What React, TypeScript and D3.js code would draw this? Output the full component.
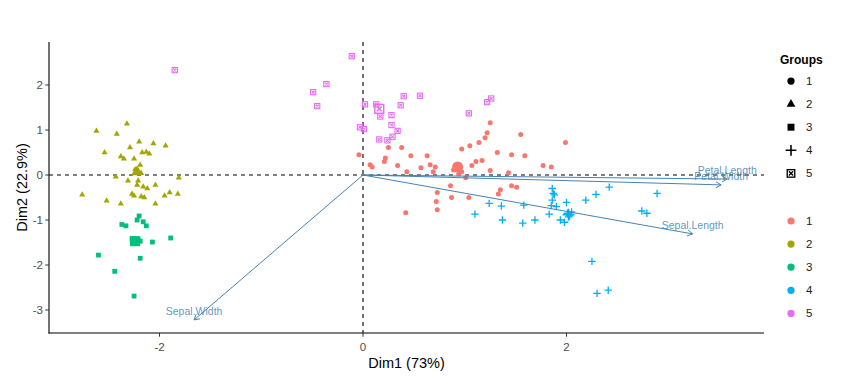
import React from 'react';
import * as d3 from 'd3';

// ---- Data (Dim1, Dim2) ----
const group1: [number, number][] = [
  [-0.04, 0.45], [0.07, 0.23], [0.09, 0.18], [0.22, 0.38], [0.21, 0.30], [0.25, 0.61],
  [0.38, 0.61], [0.34, 0.21], [0.47, 0.43], [0.63, 0.43], [0.57, 0.16], [0.66, 0.23],
  [0.71, 0.18], [0.69, 0.07], [0.43, 0.07], [0.97, 0.58], [1.05, 0.65], [1.14, 0.72],
  [1.20, 0.83], [1.22, 0.94], [1.25, 1.16], [1.55, 0.90], [1.99, 0.72], [1.32, 0.50],
  [1.46, 0.45], [1.59, 0.43], [1.07, 0.21], [1.11, 0.30], [1.17, 0.32], [1.25, 0.10],
  [1.43, 0.05], [1.77, 0.21], [1.85, 0.18], [0.94, 0.02], [1.01, -0.06], [0.86, -0.24],
  [1.35, -0.33], [1.33, -0.42], [1.46, -0.24], [1.51, -0.27], [0.73, -0.39], [0.87, -0.50],
  [0.72, -0.59], [1.04, -0.50], [0.73, -0.77], [0.42, -0.84], [0.89, 0.11], [0.97, 0.07],
];
const group2: [number, number][] = [
  [-2.62, 0.98], [-2.32, 1.14], [-2.42, 0.91], [-2.20, 0.74], [-2.29, 0.61], [-2.06, 0.70],
  [-1.94, 0.65], [-2.54, 0.50], [-2.38, 0.41], [-2.35, 0.36], [-2.25, 0.36], [-2.17, 0.50],
  [-2.13, 0.51], [-2.10, 0.47], [-2.19, 0.22], [-2.43, -0.04], [-1.81, -0.06], [-2.31, -0.13],
  [-2.21, -0.13], [-2.22, -0.22], [-2.04, -0.22], [-2.16, -0.26], [-2.12, -0.30], [-2.76, -0.44],
  [-2.27, -0.42], [-2.25, -0.46], [-2.18, -0.48], [-2.15, -0.50], [-1.95, -0.46], [-1.90, -0.39],
  [-1.82, -0.42], [-2.52, -0.57], [-2.38, -0.64], [-2.04, -0.64], [-2.24, 0.12], [-2.18, 0.04],
];
const group3: [number, number][] = [
  [-2.20, -0.91], [-2.22, -1.00], [-2.16, -1.04], [-2.13, -1.13], [-2.37, -1.10], [-2.33, -1.13],
  [-2.19, -1.47], [-2.07, -1.49], [-1.89, -1.40], [-2.60, -1.78], [-2.19, -1.85], [-2.44, -2.14],
  [-2.25, -2.69], [-2.27, -1.42], [-2.24, -1.52], [-2.21, -1.44],
];
const group4: [number, number][] = [
  [1.10, -0.87], [1.24, -0.63], [1.36, -0.69], [1.37, -1.00], [1.57, -1.07], [1.69, -1.00],
  [1.58, -0.67], [1.86, -0.30], [1.87, -0.41], [1.88, -0.44], [1.86, -0.56], [1.85, -0.68],
  [1.90, -0.70], [1.83, -0.87], [2.00, -0.61], [2.19, -0.56], [2.29, -0.43], [2.42, -0.27],
  [2.89, -0.41], [2.74, -0.80], [2.79, -0.85], [1.94, -1.00], [1.98, -1.05], [2.02, -0.93],
  [2.25, -1.92], [2.30, -2.63], [2.41, -2.56], [2.01, -0.85], [2.03, -0.91], [2.05, -0.82],
];
const group5: [number, number][] = [
  [-0.11, 2.64], [0.40, 1.75], [0.56, 1.76], [0.02, 1.57], [0.13, 1.57], [0.17, 1.30],
  [0.37, 1.55], [0.28, 1.33], [0.28, 1.11], [0.34, 0.98], [0.29, 0.85], [0.24, 0.77],
  [0.16, 0.79], [-0.03, 1.06], [0.01, 1.02], [1.04, 1.37], [1.22, 1.62], [1.26, 1.70],
  [-0.36, 2.02], [-0.49, 1.84], [-0.45, 1.53], [-1.85, 2.33],
];
const centroids: [number, number][] = [
  [0.93, 0.18], [-2.22, 0.07], [-2.24, -1.47], [2.02, -0.88], [0.16, 1.47],
];
const groupNames = ['1', '2', '3', '4', '5'];
const groupColors = ['#F8766D', '#A3A500', '#00BF7D', '#00B0F6', '#E76BF3'];
const groupShapes = ['circle', 'triangle', 'square', 'plus', 'boxx'];

const varNames = ['Sepal.Length', 'Sepal.Width', 'Petal.Length', 'Petal.Width'];
const varDim1 = [3.24, -1.66, 3.58, 3.52];
const varDim2 = [-1.31, -3.22, -0.09, -0.22];

const xTicks = [-2, 0, 2];
const yTicks = [-3, -2, -1, 0, 1, 2];
const xTitle = 'Dim1 (73%)';
const yTitle = 'Dim2 (22.9%)';
const legendTitle = 'Groups';

// ---- Layout ----
const W = 857, H = 382;
const L = 49, R = 764, T = 42, B = 333;
const x = d3.scaleLinear().domain([-(363 - L) / 101.75, (R - 363) / 101.75]).range([L, R]);
const y = d3.scaleLinear().domain([-(B - 175) / 45, (175 - T) / 45]).range([B, T]);
const FONT = '"Liberation Sans", Arial, Helvetica, sans-serif';
const ARROW = '#4682B4';

function shapeEl(shape: string, cx: number, cy: number, s: number, color: string, key: string) {
  if (shape === 'circle') {
    return <circle key={key} cx={cx} cy={cy} r={2.5 * s} fill={color} />;
  }
  if (shape === 'triangle') {
    const p = d3.symbol().type(d3.symbolTriangle).size(16 * s * s)();
    return <path key={key} d={p as string} transform={`translate(${cx},${cy})`} fill={color} />;
  }
  if (shape === 'square') {
    const h = 2.4 * s;
    return <rect key={key} x={cx - h} y={cy - h} width={2 * h} height={2 * h} fill={color} />;
  }
  if (shape === 'plus') {
    const h = 3.7 * s;
    return (
      <path key={key} d={`M${cx - h},${cy}H${cx + h}M${cx},${cy - h}V${cy + h}`}
        stroke={color} strokeWidth={1.3 * Math.sqrt(s)} fill="none" />
    );
  }
  const h = 2.6 * s;
  const k = h * 0.55;
  return (
    <g key={key} stroke={color} strokeWidth={1.1 * Math.sqrt(s)} fill="none">
      <rect x={cx - h} y={cy - h} width={2 * h} height={2 * h} />
      <path d={`M${cx - k},${cy - k}L${cx + k},${cy + k}M${cx - k},${cy + k}L${cx + k},${cy - k}`} />
    </g>
  );
}

export default function App() {
  const groups = [group1, group2, group3, group4, group5];
  const centroidScale = [2.2, 1.9, 2.1, 1.6, 1.7];
  const ox = x(0), oy = y(0);
  return (
    <svg width={W} height={H} style={{ position: 'absolute', left: 0, top: 0, background: '#fff' }}
      fontFamily={FONT}>
      <rect x={0} y={0} width={W} height={H} fill="#fff" />
      {/* reference lines */}
      <line x1={L} x2={R} y1={oy} y2={oy} stroke="#000" strokeWidth={1.1} strokeDasharray="4,4" />
      <line x1={ox} x2={ox} y1={T} y2={B} stroke="#000" strokeWidth={1.1} strokeDasharray="4,4" />
      {/* points */}
      {groups.map((g, gi) =>
        g.map((d, i) => shapeEl(groupShapes[gi], x(d[0]), y(d[1]), 1, groupColors[gi], `p${gi}-${i}`))
      )}
      {centroids.map((d, gi) =>
        shapeEl(groupShapes[gi], x(d[0]), y(d[1]), centroidScale[gi], groupColors[gi], `c${gi}`)
      )}
      {/* variable arrows */}
      {varNames.map((n, i) => {
        const ex = x(varDim1[i]), ey = y(varDim2[i]);
        const a = Math.atan2(ey - oy, ex - ox);
        const len = 6;
        const w1x = ex - len * Math.cos(a - Math.PI / 6), w1y = ey - len * Math.sin(a - Math.PI / 6);
        const w2x = ex - len * Math.cos(a + Math.PI / 6), w2y = ey - len * Math.sin(a + Math.PI / 6);
        return (
          <g key={n}>
            <line x1={ox} y1={oy} x2={ex} y2={ey} stroke={ARROW} strokeWidth={1} />
            <path d={`M${w1x},${w1y}L${ex},${ey}L${w2x},${w2y}`} stroke={ARROW} strokeWidth={1} fill="none" />
          </g>
        );
      })}
      {varNames.map((n, i) => (
        <text key={`t${n}`} x={x(varDim1[i])} y={y(varDim2[i]) - 9} dy="0.35em" textAnchor="middle"
          fontSize={10.5} fill={ARROW} fillOpacity={0.85}>{n}</text>
      ))}
      {/* axes */}
      <line x1={L} x2={L} y1={T} y2={B + 0.5} stroke="#000" strokeWidth={1.1} />
      <line x1={L - 0.5} x2={R} y1={B} y2={B} stroke="#000" strokeWidth={1.1} />
      {xTicks.map(t => (
        <g key={`xt${t}`}>
          <line x1={x(t)} x2={x(t)} y1={B} y2={B + 3.7} stroke="#333" strokeWidth={1} />
          <text x={x(t)} y={B + 14} dy="0.35em" textAnchor="middle" fontSize={11.5} fill="#4D4D4D">{t}</text>
        </g>
      ))}
      {yTicks.map(t => (
        <g key={`yt${t}`}>
          <line x1={L - 3.7} x2={L} y1={y(t)} y2={y(t)} stroke="#333" strokeWidth={1} />
          <text x={L - 6} y={y(t)} dy="0.35em" textAnchor="end" fontSize={11.5} fill="#4D4D4D">{t}</text>
        </g>
      ))}
      <text x={(L + R) / 2} y={363} dy="0.35em" textAnchor="middle" fontSize={14.5} fill="#000">{xTitle}</text>
      <text transform={`translate(22,${(T + B) / 2}) rotate(-90)`} dy="0.35em" textAnchor="middle"
        fontSize={14.5} fill="#000">{yTitle}</text>
      {/* legend */}
      <text x={780} y={60} dy="0.35em" fontSize={12} fontWeight="bold" fill="#000">{legendTitle}</text>
      {groupNames.map((n, i) => (
        <g key={`ls${n}`}>
          {shapeEl(groupShapes[i], 791, 81 + i * 23.1, 1.45, '#000', `lsh${n}`)}
          <text x={806} y={81 + i * 23.1} dy="0.35em" fontSize={11.5} fill="#1a1a1a">{n}</text>
        </g>
      ))}
      {groupNames.map((n, i) => (
        <g key={`lc${n}`}>
          <circle cx={791} cy={221 + i * 23.1} r={3.6} fill={groupColors[i]} />
          <text x={806} y={221 + i * 23.1} dy="0.35em" fontSize={11.5} fill="#1a1a1a">{n}</text>
        </g>
      ))}
    </svg>
  );
}
